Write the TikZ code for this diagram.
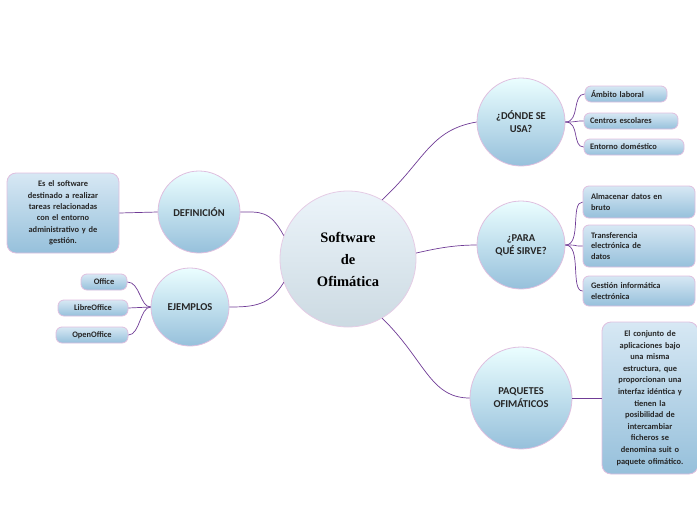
\documentclass[tikz,border=0pt]{standalone}
\usepackage{fontspec}
\setmainfont{Carlito}
\newfontfamily\serifb{Liberation Serif}
\begin{document}
\begin{tikzpicture}[x=1pt,y=-1pt,
 hub/.style={circle,draw=violet!25,line width=0.8pt,top color=blue!5!cyan!8,bottom color={rgb,255:red,150;green,192;blue,219},align=center,font=\fontsize{10.5}{13}\selectfont\bfseries,text=black!85,inner sep=0pt},
 leaf/.style={rounded corners=6pt,draw=violet!25,line width=0.8pt,top color={rgb,255:red,215;green,232;blue,244},bottom color={rgb,255:red,150;green,192;blue,219},align=left,font=\fontsize{8.4}{10.5}\selectfont\bfseries,text=black!85,inner sep=2pt,minimum height=16pt},
 leafc/.style={leaf,align=center},
 con/.style={draw={rgb,255:red,112;green,60;blue,150},line width=0.7pt}]
\useasboundingbox (0,0) rectangle (697,520);
\node[circle,draw=violet!20,line width=0.8pt,top color={rgb,255:red,236;green,244;blue,250},bottom color={rgb,255:red,204;green,218;blue,226},minimum size=136pt,align=center,font=\serifb\fontsize{14.5}{22}\selectfont\bfseries] (c) at (348,259) {Software\\de\\Ofimática};
\node[hub,minimum size=88pt] (d) at (521,122) {¿DÓNDE SE\\USA?};
\node[hub,minimum size=88pt] (p) at (521,245) {¿PARA\\QUÉ SIRVE?};
\node[hub,minimum size=102pt] (k) at (521,398) {PAQUETES\\OFIMÁTICOS};
\node[hub,minimum size=82pt] (df) at (199,212) {DEFINICIÓN};
\node[hub,minimum size=78pt] (ej) at (190,307) {EJEMPLOS};
\node[leaf,text width=78pt] (l1) at (626,94) {\hspace*{4pt}Ámbito laboral};
\node[leaf,text width=90pt] (l2) at (631,121) {\hspace*{4pt}Centros escolares};
\node[leaf,text width=96pt] (l3) at (634,147) {\hspace*{4pt}Entorno doméstico};
\node[leaf,text width=96pt,minimum height=32pt,inner xsep=8pt] (m1) at (639,202) {Almacenar datos en\\bruto};
\node[leaf,text width=96pt,minimum height=42pt,inner xsep=8pt] (m2) at (639,246) {Transferencia\\electrónica de\\datos};
\node[leaf,text width=96pt,minimum height=30pt,inner xsep=8pt] (m3) at (639,291) {Gestión informática\\electrónica};
\node[leafc,text width=92pt,minimum height=152pt,rounded corners=9pt,font=\fontsize{8.4}{11.6}\selectfont\bfseries] (e) at (650,398) {El conjunto de\\aplicaciones bajo\\una misma\\estructura, que\\proporcionan una\\interfaz idéntica y\\tienen la\\posibilidad de\\intercambiar\\ficheros se\\denomina suit o\\paquete ofimático.};
\node[leafc,text width=108pt,minimum height=80pt,rounded corners=9pt,font=\fontsize{8.4}{11.4}\selectfont\bfseries] (t) at (63,213) {Es el software\\destinado a realizar\\tareas relacionadas\\con el entorno\\administrativo y de\\gestión.};
\node[leafc,minimum width=46pt] (o1) at (104,282) {Office};
\node[leafc,minimum width=70pt] (o2) at (93,308) {LibreOffice};
\node[leafc,minimum width=72pt] (o3) at (92,335) {OpenOffice};
\draw[con] (c.60) .. controls (425,160) and (430,130) .. (d.west);
\draw[con] (c.5) .. controls (430,250) and (450,245) .. (p.west);
\draw[con] (c.-60) .. controls (425,360) and (430,398) .. (k.west);
\draw[con] (c.160) .. controls (270,210) and (260,212) .. (df.east);
\draw[con] (c.200) .. controls (270,305) and (255,307) .. (ej.east);
\foreach \n in {l1,l2,l3} \draw[con] (d.east) .. controls (580,122) and (572,0|-\n.west) .. (\n.west);
\foreach \n in {m1,m2,m3} \draw[con] (p.east) .. controls (582,245) and (570,0|-\n.west) .. (\n.west);
\draw[con] (k.east) -- (e.west);
\draw[con] (df.west) -- (t.east);
\foreach \n in {o1,o2,o3} \draw[con] (ej.west) .. controls (140,307) and (140,0|-\n.east) .. (\n.east);
\end{tikzpicture}
\end{document}
